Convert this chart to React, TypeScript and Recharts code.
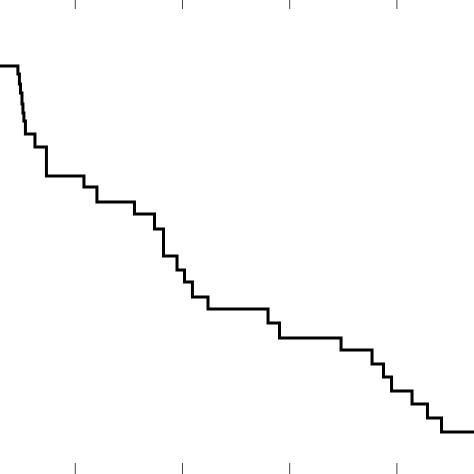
import { LineChart, Line, XAxis, YAxis } from "recharts";

// event times (x axis units) and survival level after each event
const times = [
  2.98, 4.65, 4.79, 4.89, 5.03, 5.12, 5.21, 5.35, 6.24, 7.31, 10.81, 12.02,
  15.52, 17.39, 18.23, 19.49, 20.19, 20.93, 22.38, 27.98, 29.05, 34.79,
  37.68, 38.75, 39.5, 41.41, 42.85, 44.16, 47.19,
];
const survival = [
  1.0, 0.98, 0.955, 0.9325, 0.905, 0.8825, 0.8625, 0.83, 0.7975, 0.725,
  0.6975, 0.66, 0.63, 0.5925, 0.525, 0.49, 0.46, 0.4225, 0.3925, 0.3575,
  0.32, 0.29, 0.255, 0.2225, 0.1875, 0.155, 0.12, 0.085, 0.085,
];
const xTicks = [10, 20, 30, 40];

const xDomain: [number, number] = [2.98, 47.19];
const yDomain: [number, number] = [0.0075, 1.1425];

const data = times.map((t, i) => ({ t, s: survival[i] }));

// labels are not shown in the picture, only the tick marks
const noLabel = () => "";

export default function App() {
  return (
    <div
      style={{
        position: "absolute",
        left: 0,
        top: 0,
        width: 474,
        height: 474,
        background: "#fff",
      }}
    >
      <LineChart
        width={474}
        height={474}
        data={data}
        margin={{ top: 0, right: 0, bottom: 0, left: 0 }}
      >
        <XAxis
          xAxisId="top"
          orientation="top"
          dataKey="t"
          type="number"
          domain={xDomain}
          ticks={xTicks}
          allowDataOverflow
          height={9}
          tickSize={9}
          tickFormatter={noLabel}
          axisLine={false}
          tickLine={{ stroke: "#444", strokeWidth: 1 }}
        />
        <XAxis
          xAxisId="bottom"
          orientation="bottom"
          dataKey="t"
          type="number"
          domain={xDomain}
          ticks={xTicks}
          allowDataOverflow
          height={11}
          tickSize={11}
          tickFormatter={noLabel}
          axisLine={false}
          tickLine={{ stroke: "#444", strokeWidth: 1 }}
        />
        <YAxis hide type="number" domain={yDomain} allowDataOverflow />
        <Line
          xAxisId="bottom"
          type="stepAfter"
          dataKey="s"
          stroke="#000"
          strokeWidth={3}
          dot={false}
          activeDot={false}
          isAnimationActive={false}
        />
      </LineChart>
    </div>
  );
}
